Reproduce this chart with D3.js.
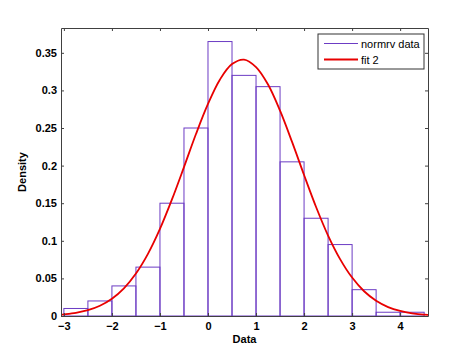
<!DOCTYPE html>
<html><head><meta charset="utf-8">
<script src="https://cdn.jsdelivr.net/npm/d3@7"></script>
<style>body{margin:0;background:#fff;}svg{display:block;}</style>
</head><body>
<svg id="c" width="474" height="355"></svg>
<script>
const binEdges = [-3,-2.5,-2,-1.5,-1,-0.5,0,0.5,1,1.5,2,2.5,3,3.5,4,4.5];
const binHeights = [0.01,0.02,0.04,0.065,0.15,0.25,0.365,0.32,0.305,0.205,0.13,0.095,0.035,0.005,0.005];
const fitX = [-3.06,-3,-2.75,-2.5,-2.25,-2,-1.75,-1.5,-1.25,-1,-0.75,-0.5,-0.25,0,0.25,0.5,0.75,1,1.25,1.5,1.75,2,2.25,2.5,2.75,3,3.25,3.5,3.75,4,4.25,4.5,4.58];
const fitY = [0.0018,0.0022,0.0042,0.0077,0.0136,0.0229,0.0367,0.0564,0.0826,0.1158,0.155,0.198,0.242,0.282,0.3146,0.335,0.341,0.331,0.3078,0.273,0.2315,0.1875,0.145,0.107,0.0757,0.0511,0.0329,0.0203,0.0119,0.0067,0.0036,0.0018,0.0016];
const xTicks = [-3,-2,-1,0,1,2,3,4];
const yTicks = [0,0.05,0.1,0.15,0.2,0.25,0.3,0.35];
const legendLabels = ["normrv data","fit 2"];

const svg = d3.select("#c");
const L=61, T=28, R=428, B=316;
const x = d3.scaleLinear().domain([-3.06,4.58]).range([L,R]);
const y = d3.scaleLinear().domain([0,0.383]).range([B,T]);
const purple = "#6c3cc4", red = "#e80000", axc = "#404040";
const font = "'Liberation Sans', Arial, sans-serif";

svg.append("clipPath").attr("id","pc").append("rect")
  .attr("x",L).attr("y",T).attr("width",R-L).attr("height",B-T);

const g = svg.append("g").attr("clip-path","url(#pc)");
g.selectAll("rect.bar").data(binHeights).enter().append("rect")
  .attr("x",(d,i)=>x(binEdges[i])).attr("width",(d,i)=>x(binEdges[i+1])-x(binEdges[i]))
  .attr("y",d=>y(d)).attr("height",d=>y(0)-y(d))
  .attr("fill","none").attr("stroke",purple).attr("stroke-width",1);

const line = d3.line().x((d,i)=>x(fitX[i])).y(d=>y(d)).curve(d3.curveCatmullRom);
g.append("path").attr("d",line(fitY)).attr("fill","none").attr("stroke",red).attr("stroke-width",1.8);

const axB = svg.append("g").attr("transform",`translate(0,${B})`)
  .call(d3.axisBottom(x).tickValues(xTicks).tickFormat(d3.format("d")).tickSizeInner(-3).tickSizeOuter(0).tickPadding(6));
const axT = svg.append("g").attr("transform",`translate(0,${T})`)
  .call(d3.axisTop(x).tickValues(xTicks).tickFormat("").tickSizeInner(-3).tickSizeOuter(0));
const axL = svg.append("g").attr("transform",`translate(${L},0)`)
  .call(d3.axisLeft(y).tickValues(yTicks).tickFormat(d=>String(d)).tickSizeInner(-3).tickSizeOuter(0).tickPadding(4));
const axR = svg.append("g").attr("transform",`translate(${R},0)`)
  .call(d3.axisRight(y).tickValues(yTicks).tickFormat("").tickSizeInner(-3).tickSizeOuter(0));
[axB,axT,axL,axR].forEach(a=>{
  a.select(".domain").attr("stroke",axc);
  a.selectAll(".tick line").attr("stroke",axc);
  a.selectAll("text").attr("font-family",font).attr("font-weight","bold").attr("font-size","11px").attr("fill","#000");
});

svg.append("text").attr("x",(L+R)/2).attr("y",343).attr("text-anchor","middle")
  .attr("font-family",font).attr("font-weight","bold").attr("font-size","11px").text("Data");
svg.append("text").attr("transform",`translate(26,${(T+B)/2}) rotate(-90)`).attr("text-anchor","middle")
  .attr("font-family",font).attr("font-weight","bold").attr("font-size","11px").text("Density");

const lg = svg.append("g");
lg.append("rect").attr("x",318).attr("y",34).attr("width",106).attr("height",35)
  .attr("fill","#fff").attr("stroke","#333").attr("stroke-width",1);
const lColors=[purple,red], lWidths=[1,2.2];
legendLabels.forEach((t,i)=>{
  const yy = 43.5 + i*16;
  lg.append("line").attr("x1",324).attr("x2",358).attr("y1",yy).attr("y2",yy)
    .attr("stroke",lColors[i]).attr("stroke-width",lWidths[i]);
  lg.append("text").attr("x",361).attr("y",yy+4).attr("font-family",font).attr("font-size","11px").text(t);
});
</script>
</body></html>
